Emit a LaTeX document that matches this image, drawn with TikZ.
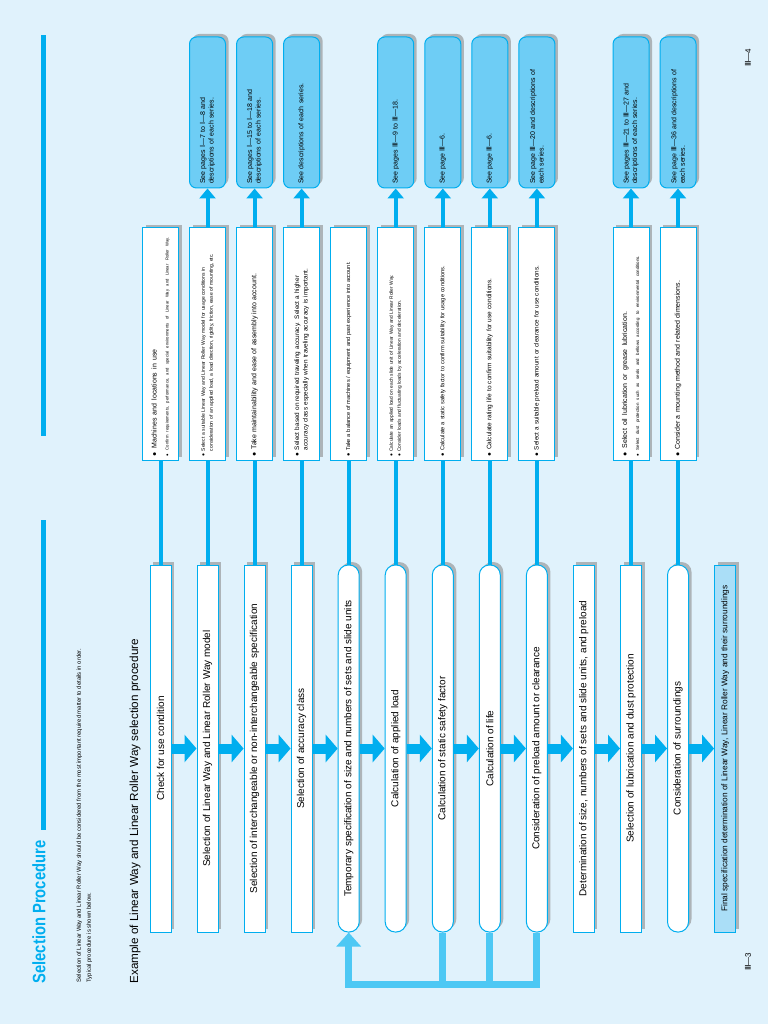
\documentclass[tikz,border=0pt]{standalone}
\usepackage{fontspec}
\setmainfont{Liberation Sans}
\newfontfamily\dvf{DejaVu Sans}
\usetikzlibrary{arrows.meta,shadows}
\newcommand{\RIII}{{\dvf Ⅲ}}
\newcommand{\RI}{{\dvf Ⅰ}}
\definecolor{bgc}{RGB}{224,242,252}
\definecolor{cy}{RGB}{0,174,239}
\definecolor{notec}{RGB}{110,205,245}
\definecolor{loopc}{RGB}{77,200,244}
\definecolor{finc}{RGB}{170,222,247}
\begin{document}
\begin{tikzpicture}[x=1pt,y=-1pt,
  shad/.style={drop shadow={shadow xshift=3pt,shadow yshift=3pt,fill=black!45,opacity=0.6}},
  mainbox/.style={draw=cy,line width=1pt,fill=white,rotate=90,minimum width=367pt,minimum height=21pt,inner sep=1pt,font=\fontsize{10}{12}\selectfont,shad},
  roundbox/.style={mainbox,rounded corners=10pt},
  finalbox/.style={mainbox,fill=finc,font=\fontsize{8.3}{10}\selectfont},
  detbox/.style={draw=cy,line width=1pt,fill=white,rotate=90,minimum width=232pt,minimum height=36pt,inner sep=2pt,text width=224pt,align=left,shad},
  notebox/.style={draw=cy,line width=1pt,fill=notec,rotate=90,minimum width=151pt,minimum height=36pt,inner sep=2pt,text width=143pt,align=left,rounded corners=7pt,font=\fontsize{7}{8.5}\selectfont,shad},
  flow/.style={draw=cy,line width=10pt,-{Triangle[length=12pt,width=27pt]}},
  vline/.style={draw=cy,line width=4pt},
  varrow/.style={draw=cy,line width=4pt,-{Triangle[length=10pt,width=16pt]}},
  loopline/.style={draw=loopc,line width=7pt},
]
\fill[bgc] (0,0) rectangle (768,1024);
% title column
\fill[cy] (41,35) rectangle (46,436);
\fill[cy] (41,520) rectangle (46,830);
\node[rotate=90,text=cy,font=\bfseries\fontsize{18}{20}\selectfont] (title) at (39,912) {\scalebox{0.82}[1]{Selection Procedure}};
\node[rotate=90,anchor=north west,align=left,font=\fontsize{5.9}{10}\selectfont] (intro) at (73,986) {Selection of Linear Way and Linear Roller Way should be considered from the most important required matter to details in order.\\Typical procedure is shown below.};
\node[rotate=90,anchor=west,font=\fontsize{11.7}{14}\selectfont] (sub) at (135,987) {Example of Linear Way and Linear Roller Way selection procedure};
\node[rotate=90,font=\fontsize{8}{9}\selectfont] (pg3) at (748,962) {\RIII—3};
\node[rotate=90,font=\fontsize{8}{9}\selectfont] (pg4) at (748,58) {\RIII—4};
% main boxes
\node[mainbox]  (m0)  at (160.5,748.5) {Check for use condition};
\node[mainbox]  (m1)  at (207.5,748.5) {Selection of Linear Way and Linear Roller Way model};
\node[mainbox]  (m2)  at (254.6,748.5) {Selection of interchangeable or non-interchangeable specification};
\node[mainbox]  (m3)  at (301.6,748.5) {Selection of accuracy class};
\node[roundbox] (m4)  at (348.7,748.5) {Temporary specification of size and numbers of sets and slide units};
\node[roundbox] (m5)  at (395.7,748.5) {Calculation of applied load};
\node[roundbox] (m6)  at (442.8,748.5) {Calculation of static safety factor};
\node[roundbox] (m7)  at (489.8,748.5) {Calculation of life};
\node[roundbox] (m8)  at (536.9,748.5) {Consideration of preload amount or clearance};
\node[mainbox]  (m9)  at (583.9,748.5) {Determination of size, numbers of sets and slide units, and preload};
\node[mainbox]  (m10) at (631.0,748.5) {Selection of lubrication and dust protection};
\node[roundbox] (m11) at (678.0,748.5) {Consideration of surroundings};
\node[finalbox] (m12) at (725.1,748.5) {Final specification determination of Linear Way, Linear Roller Way and their surroundings};
\foreach \a/\b in {m0/m1,m1/m2,m2/m3,m3/m4,m4/m5,m5/m6,m6/m7,m7/m8,m8/m9,m9/m10,m10/m11,m11/m12}
  \draw[flow] (\a.south) -- (\b.north);
% detail boxes
\node[detbox] (d0) at (160.5,344) {\mbox{\fontsize{7}{8.5}\selectfont ● Machines and locations in use}\\\mbox{\fontsize{4.2}{8}\selectfont ● Confirm requirements, performance, and special environments of Linear Way and Linear Roller Way.}};
\node[detbox,font=\fontsize{5}{8}\selectfont] (d1) at (207.5,344) {\mbox{● Select a suitable Linear Way and Linear Roller Way model for usage conditions in}\\\mbox{\hspace*{5pt}consideration of an applied load, a load direction, rigidity, friction, ease of mounting, etc.}};
\node[detbox,font=\fontsize{7}{8.5}\selectfont] (d2) at (254.6,344) {● Take maintainability and ease of assembly into account.};
\node[detbox,font=\fontsize{6.4}{8.5}\selectfont] (d3) at (301.6,344) {\mbox{● Select based on required traveling accuracy. Select a higher}\\\mbox{\hspace*{6pt}accuracy class especially when traveling accuracy is important.}};
\node[detbox,font=\fontsize{5.6}{8}\selectfont] (d4) at (348.7,344) {● Take a balance of machines / equipment and past experience into account.};
\node[detbox,font=\fontsize{4.8}{8}\selectfont] (d5) at (395.7,344) {\mbox{● Calculate an applied load on each slide unit of Linear Way and Linear Roller Way.}\\\mbox{● Consider loads and fluctuating loads by acceleration and deceleration.}};
\node[detbox,font=\fontsize{5.7}{8}\selectfont] (d6) at (442.8,344) {● Calculate a static safety factor to confirm suitability for usage conditions.};
\node[detbox,font=\fontsize{6.5}{8}\selectfont] (d7) at (489.8,344) {● Calculate rating life to confirm suitability for use conditions.};
\node[detbox,font=\fontsize{6.3}{8}\selectfont] (d8) at (536.9,344) {● Select a suitable preload amount or clearance for use conditions.};
\node[detbox] (d10) at (631.0,344) {\mbox{\fontsize{7}{8.5}\selectfont ● Select oil lubrication or grease lubrication.}\\\mbox{\fontsize{4.4}{8}\selectfont ● Select dust protection such as seals and bellows according to environmental conditions.}};
\node[detbox,font=\fontsize{7}{8.5}\selectfont] (d11) at (678.0,344) {● Consider a mounting method and related dimensions.};
\foreach \i in {0,1,2,3,4,5,6,7,8,10,11}
  \draw[vline] (m\i.east) -- (d\i.west);
% notes
\node[notebox] (n1) at (207.5,112.5) {See pages \RI—7 to \RI—8 and\\descriptions of each series.};
\node[notebox] (n2) at (254.6,112.5) {See pages \RI—15 to \RI—18 and\\descriptions of each series.};
\node[notebox] (n3) at (301.6,112.5) {See descriptions of each series.};
\node[notebox] (n5) at (395.7,112.5) {See pages \RIII—9 to \RIII—18.};
\node[notebox] (n6) at (442.8,112.5) {See page \RIII—6.};
\node[notebox] (n7) at (489.8,112.5) {See page \RIII—6.};
\node[notebox] (n8) at (536.9,112.5) {See page \RIII—20 and descriptions of\\each series.};
\node[notebox] (n10) at (631.0,112.5) {See pages \RIII—21 to \RIII—27 and\\descriptions of each series.};
\node[notebox] (n11) at (678.0,112.5) {See page \RIII—36 and descriptions of\\each series.};
\foreach \i in {1,2,3,5,6,7,8,10,11}
  \draw[varrow] (d\i.east) -- (n\i.west);
% feedback loop
\coordinate (l6) at ([yshift=-52pt]m6.west);
\coordinate (l7) at ([yshift=-52pt]m7.west);
\coordinate (l8) at ([yshift=-52pt]m8.west);
\draw[loopline] (m6.west) -- (l6);
\draw[loopline] (m7.west) -- (l7);
\draw[loopline,-{Triangle[length=14pt,width=24pt]}] (m8.west) -- (l8) -| (m4.west);
\end{tikzpicture}
\end{document}
